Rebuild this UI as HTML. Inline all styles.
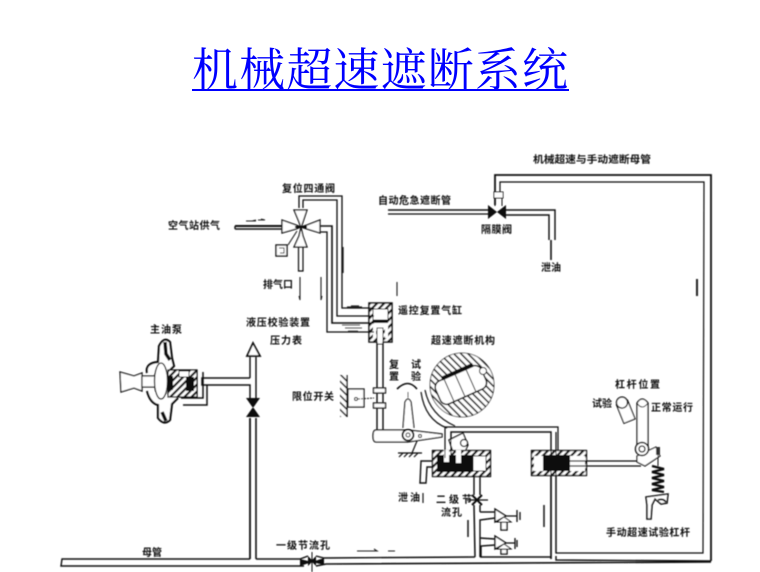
<!DOCTYPE html>
<html><head><meta charset="utf-8">
<style>
html,body{margin:0;padding:0;background:#fff;width:760px;height:572px;overflow:hidden}
svg{display:block}
.t{font-family:"Liberation Sans","Noto Sans CJK SC",sans-serif;font-size:10px;font-weight:700;fill:#111}
</style></head><body>
<svg width="760" height="572" viewBox="0 0 760 572" xmlns="http://www.w3.org/2000/svg">
<defs>
<pattern id="h" width="5" height="5" patternUnits="userSpaceOnUse" patternTransform="rotate(45)"><rect width="5" height="5" fill="#fff"/><rect width="2.2" height="5" fill="#111"/></pattern>
<pattern id="h2" width="5" height="5" patternUnits="userSpaceOnUse" patternTransform="rotate(-45)"><rect width="5" height="5" fill="#fff"/><rect width="1.600" height="5" fill="#222"/></pattern>
<filter id="b" x="-5%" y="-5%" width="110%" height="110%"><feGaussianBlur stdDeviation="0.45"/></filter>
</defs>

<text x="192" y="86" textLength="376" lengthAdjust="spacing" style="font-family:'Liberation Serif','Noto Serif CJK SC',serif;font-size:46px" fill="#0000ff">机械超速遮断系统</text>
<rect x="192" y="89" width="377" height="2" fill="#0000ff"/>

<g filter="url(#b)">
<g fill="none" stroke="#111" stroke-width="1.4">
<!-- upper bus -->
<polyline points="495,205 495,175 711,175 711,561" stroke-width="1.8"/>
<polyline points="500,193 500,182 704,182 703,553 556,553 556,432" stroke-width="1.2"/>
<!-- bottom bus -->
<polyline points="250,559 62,559 61,566 304,566"/>
<polyline points="256,559 300,559 308,556"/>
<polyline points="316,556 324,558 475,557"/>
<polyline points="480,557 551,557"/>
<polyline points="556,556 556,560 711,561"/>
<polyline points="316,566 326,564 711,562" stroke-width="1.6"/>
<!-- main vertical -->
<line x1="250" y1="418" x2="250" y2="559" stroke-width="1.8"/>
<line x1="256" y1="418" x2="256" y2="559" stroke-width="1.6"/>
<line x1="250" y1="357" x2="250" y2="378"/><line x1="256" y1="357" x2="256" y2="398"/>
<polyline points="207,378 250,378"/><polyline points="207,385 250,385 250,398"/>
<!-- air to valve -->
<path d="M235,226 H283" stroke-width="2"/><path d="M235,229 H283" stroke-width="1.400"/><path d="M235,226 V229"/>
<!-- reset valve pipes -->
<polyline points="299,208 299,196 342,196 342,308 368,308" stroke-width="1.3"/>
<polyline points="303,208 303,200 337,200 337,316 368,316" stroke-width="1.3"/>
<polyline points="320,226 332,226 332,323 368,323" stroke-width="1.6"/>
<polyline points="320,232 327,232 327,332 368,332" stroke-width="1.3"/>
<path d="M298.500,247 V271 H303 V247" stroke-width="1.2"/>
<!-- auto trip line -->
<polyline points="388,210 490,210"/><polyline points="388,214 490,214" stroke-width="1.2"/>
<polyline points="506,210 555,210 555,240"/><polyline points="506,215 549,215 549,240"/>
<line x1="551" y1="240" x2="551" y2="260" stroke-width="1.6"/>
<!-- mech pipes -->
<polyline points="445,455 445,427 558,427 558,450" stroke-width="1.2"/>
<polyline points="451,446 451,432 551,432 551,450" stroke-width="1.4"/>
<line x1="551" y1="476" x2="551" y2="559" stroke-width="1.7"/>
<line x1="556" y1="476" x2="556" y2="553" stroke-width="1.4"/>
<!-- below trip -->
<line x1="474" y1="476" x2="474" y2="495"/><line x1="480" y1="476" x2="480" y2="495"/>
<line x1="474" y1="505" x2="475" y2="557" stroke-width="1.5"/>
<line x1="480" y1="505" x2="480" y2="512"/><polyline points="480,512 495,512"/>
<polyline points="480,557 480,520 495,518"/>
<polyline points="480,538 495,539"/><polyline points="481,557 481,546 495,545"/>
<!-- drain curve -->
<polyline points="432,461 421,461 420,483 426,483 427,467 432,467"/>
</g>
<!-- orifices -->
<path d="M308,556 L312,560 L316,556 L316,566 L312,562 L308,566Z" fill="#111"/>
<line x1="312" y1="552" x2="312" y2="572" stroke="#111"/>
<path d="M300,559 L312,562 L300,566Z M324,558 L312,562 L324,565Z" fill="#111"/>
<path d="M472,495 L482,505 M482,495 L472,505" stroke="#111" stroke-width="2"/>
<line x1="467" y1="500" x2="488" y2="500" stroke="#111" stroke-width="1.3"/>
<!-- diaphragm valve -->
<path d="M488,205 L497,212 L488,219Z M506,205 L497,212 L506,219Z" fill="#111"/>
<path d="M494,192 H503 V198 H494Z" fill="#fff" stroke="#111"/>
<path d="M495,198 V206 M502,198 V206" stroke="#111"/>
<!-- gauge triangle + valve -->
<path d="M253,343 L260,356 L247,356Z" fill="#fff" stroke="#111" stroke-width="1.8"/>
<path d="M246,398 H260 L253,408Z M246,417 H260 L253,407Z" fill="#111"/>
<!-- four-way valve -->
<g fill="#fff" stroke="#111" stroke-width="1.3">
<path d="M294,210 H307 L303,222 L301,228 L299,222Z"/><path d="M294,247 H307 L303,236 L301,227 L299,236Z"/>
<path d="M282,220 V233 L296,229 L301,227 L296,225Z"/><path d="M320,220 V233 L307,229 L301,227 L307,225Z"/>
</g>
<path d="M295,226 h12 v2 h-12Z" fill="#111"/>
<path d="M297,231 L288,245" stroke="#111"/>
<rect x="276" y="245" width="11" height="11" fill="#fff" stroke="#111" stroke-width="1.4"/>
<path d="M279,248 h5 v5 h-4" fill="none" stroke="#111"/>
<!-- cylinder -->
<rect x="369" y="303" width="23" height="39" fill="url(#h)" stroke="#111" stroke-width="1.5"/>
<rect x="373" y="309" width="15" height="11" fill="#fff" stroke="#111"/>
<rect x="373" y="320" width="15" height="3" fill="#111"/>
<rect x="373" y="323" width="15" height="5" fill="#fff"/>
<rect x="377" y="328" width="6" height="16" fill="#fff" stroke="#111"/>
<rect x="373" y="326" width="3" height="12" fill="#fff"/><rect x="385" y="326" width="3" height="12" fill="#fff"/>
<path d="M368,308 h6 M368,316 h6 M368,323 h6 M368,332 h6" stroke="#111" stroke-width="1.3"/>
<!-- rod -->
<path d="M377,342 V430 M383,342 V430" stroke="#111" stroke-width="1.4"/>
<rect x="373.500" y="388" width="12" height="5" fill="#fff" stroke="#111" stroke-width="1.3"/>
<rect x="373.500" y="403" width="12" height="5" fill="#fff" stroke="#111" stroke-width="1.3"/>
<!-- limit switch -->
<rect x="340" y="375" width="7" height="42" fill="url(#h2)"/>
<line x1="347" y1="375" x2="347" y2="417" stroke="#111" stroke-width="1.3"/>
<rect x="348" y="389" width="16" height="18" fill="#fff" stroke="#111" stroke-width="1.3"/>
<circle cx="356" cy="399" r="1.500" fill="none" stroke="#111"/>
<path d="M358,399 L374,398" stroke="#111" stroke-dasharray="2 1"/>
<!-- lever -->
<path d="M376,430 H408 L442,434 L442,437 L408,442 H376 Q373,442 373,436 Q373,430 376,430Z" fill="#fff" stroke="#111" stroke-width="1.3"/>
<path d="M403,428 L405,402 Q408,396 411,402 L414,428" fill="#fff" stroke="#111" stroke-width="1.2"/>
<circle cx="408" cy="435" r="5.500" fill="#fff" stroke="#111" stroke-width="1.800"/>
<circle cx="408" cy="435" r="2" fill="none" stroke="#111"/>
<circle cx="420" cy="436" r="1.500" fill="none" stroke="#111"/>
<path d="M398,453 H422 M399,457 L403,453 M404,457 L408,453 M409,457 L413,453 M414,457 L418,453 M412,453 L417,441" stroke="#111" stroke-width="1.2" fill="none"/>
<!-- rotation arrow -->
<path d="M397,389 Q408,378 417,389" fill="none" stroke="#111" stroke-width="1.6"/>
<path d="M408,392 V398" stroke="#777"/>
<!-- overspeed mech -->
<circle cx="462" cy="385" r="32" fill="url(#h2)" stroke="#222" stroke-width="0.8"/>
<g transform="rotate(-24 462 385)">
<rect x="436" y="372" width="50" height="25" rx="7" fill="#fff" stroke="#111" stroke-width="1.5"/>
<path d="M448,372 v25 M460,372 v25 M472,372 v25" stroke="#111"/>
<rect x="446" y="369" width="34" height="4" fill="#111"/>
</g>
<circle cx="483" cy="371" r="3.500" fill="#fff" stroke="#111"/>
<path d="M425,390 Q430,415 455,426 M421,392 Q425,420 447,428" fill="none" stroke="#111" stroke-width="1.2"/>
<!-- latch -->
<path d="M449,440 L463,433 L468,445 L462,458 L455,458 Z" fill="#fff" stroke="#111" stroke-width="1.300"/>
<circle cx="464" cy="443" r="3.500" fill="#fff" stroke="#111" stroke-width="1.300"/>
<!-- trip block -->
<rect x="432.500" y="450.500" width="58" height="26" fill="url(#h)" stroke="#111" stroke-width="1.3"/>
<rect x="437" y="455" width="36" height="17" fill="#111"/>
<rect x="473" y="456" width="13" height="15" fill="#fff" stroke="#111"/>
<rect x="444" y="450" width="5" height="12" fill="#fff"/><rect x="456" y="450" width="5" height="13" fill="#fff"/>
<path d="M445,440 V458 M451,436 V458" stroke="#111"/>
<!-- check valves -->
<g fill="#fff" stroke="#111" stroke-width="1.4">
<path d="M495,509 V522 L506,516Z"/><path d="M495,536 V549 L506,543Z"/>
<rect x="501" y="522" width="6" height="8"/><rect x="501" y="549" width="6" height="5"/>
</g>
<path d="M497,522 L504,517 L511,522 Z M497,549 L504,544 L511,549Z" fill="#fff" stroke="#111"/>
<path d="M506,516 H517 M517,510 V522 M520,512 V520 M506,543 H515 M515,538 V549 M517,540 V547" stroke="#111" stroke-width="1.3"/>
<!-- right cylinder -->
<rect x="531.500" y="450.500" width="55" height="25" fill="url(#h)" stroke="#111" stroke-width="1.3"/>
<rect x="534" y="456" width="9" height="15" fill="#fff"/>
<rect x="543" y="455" width="27" height="16" fill="#111"/>
<rect x="570" y="456" width="15" height="15" fill="#fff"/>
<path d="M551,432 V476 M556,432 V476" stroke="#111" stroke-width="1"/>
<path d="M570,461 H637 M570,466 H641" stroke="#111" stroke-width="1.3"/>
<!-- right lever -->
<path d="M637,448 V403 Q642,395 648,403 V448" fill="#fff" stroke="#111" stroke-width="1.300"/>
<path d="M637,403 Q642,411 648,403" fill="none" stroke="#111"/>
<g transform="rotate(-22 625 410)">
<rect x="619" y="402" width="12" height="20" fill="#fff" stroke="#111" stroke-width="1.2"/>
<circle cx="625" cy="402" r="5.500" fill="#fff" stroke="#111" stroke-width="1.300"/>
</g>
<path d="M637,456 L656,447 L660,456 L645,466 L637,462Z" fill="#fff" stroke="#111" stroke-width="1.200"/>
<circle cx="642" cy="449" r="6.500" fill="#fff" stroke="#111" stroke-width="1.500"/>
<circle cx="642" cy="449" r="3" fill="none" stroke="#111" stroke-width="1.300"/>
<rect x="656" y="447" width="4" height="8" fill="#333"/>
<path d="M658,455 V466" stroke="#111"/>
<path d="M652,466 L664,469 L652,472 L664,475 L652,478 L664,481 L652,484 L664,487 L652,490 L664,492" fill="none" stroke="#111" stroke-width="2.200"/>
<path d="M646,497 L668,494 L667,503 L661,504 L655,499 L652,505 L651,519 L647,519 L647,505Z" fill="#fff" stroke="#111" stroke-width="1.600"/>
<path d="M658,500 Q663,498 666,502" fill="none" stroke="#111" stroke-width="2"/>
<!-- pump -->
<path d="M120,372 L134,376 L142,373 V391 L134,388 L121,392Z" fill="#fff" stroke="#111" stroke-width="1.300"/>
<rect x="142" y="376" width="14" height="11" fill="#fff" stroke="#111" stroke-width="1.2"/>
<path d="M147,373 Q145,363 158,362 L159,346 Q164,336 170,342 L172,358 L174,366 L168,372" fill="#fff" stroke="#111" stroke-width="2.200"/>
<path d="M147,391 Q150,403 158,405 L158,418 Q164,426 170,420 L172,404 L178,398" fill="#fff" stroke="#111" stroke-width="2.200"/>
<path d="M165,342 L166,354 L170,360 M162,412 L166,421" stroke="#111" stroke-width="3.500" fill="none"/>
<rect x="168" y="370" width="29" height="27" fill="url(#h)" stroke="#111" stroke-width="1.300"/>
<rect x="186" y="377" width="8" height="14" fill="#111"/>
<rect x="179" y="371" width="10" height="6" fill="#fff" stroke="#111"/>
<ellipse cx="161" cy="381" rx="6.500" ry="18" fill="#fff" stroke="#111" stroke-width="1.300"/>
<rect x="168" y="376" width="5" height="14" fill="#111"/>
<path d="M181,398 H203 V372 M183,405 H207 V385 M207,378 H202 V385 H207" fill="none" stroke="#111" stroke-width="1.500"/>
<!-- flow arrows -->
<g stroke="#222" stroke-width="1.100" fill="none">
<path d="M246,221 H256 M252,221 l4,-1 M258,220 H265 M261,219 l4,1"/>
<path d="M343,247 V273" stroke-width="1.400"/>
<path d="M300,277 V300 l-1,-4 M321,277 V300 l1,-4"/>
<path d="M347,307 H362 M351,306 h8" stroke-width="1.300"/>
<path d="M342,325 H360 M345,328 H362 M348,331 H358" stroke-width="0.800"/>
<path d="M397,282 V296"/>
<path d="M697,279 V296" stroke-width="2"/>
<path d="M423,493 V503" stroke-width="1.300"/>
<path d="M468,520 V537" stroke-width="1.600"/>
<path d="M544,505 V527" stroke-width="1.600"/>
<path d="M357,551 H377 l-3,-2 M388,551 H395"/>
</g>
<!-- labels -->
<text class="t" x="533" y="163" textLength="118" lengthAdjust="spacingAndGlyphs">机械超速与手动遮断母管</text>
<text class="t" x="282" y="192" textLength="53">复位四通阀</text>
<text class="t" x="378" y="204" textLength="73">自动危急遮断管</text>
<text class="t" x="481" y="233" textLength="31">隔膜阀</text>
<text class="t" x="541" y="271" textLength="20">泄油</text>
<text class="t" x="168" y="229" textLength="52">空气站供气</text>
<text class="t" x="263" y="288" textLength="30">排气口</text>
<text class="t" x="398" y="314" textLength="64">遥控复置气缸</text>
<text class="t" x="431" y="344" textLength="64">超速遮断机构</text>
<text class="t" x="150" y="333" textLength="32">主油泵</text>
<text class="t" x="246" y="326" textLength="64">液压校验装置</text>
<text class="t" x="270" y="344" textLength="32">压力表</text>
<text class="t" x="292" y="400" textLength="42">限位开关</text>
<text class="t" x="389" y="368">复</text><text class="t" x="389" y="380">置</text>
<text class="t" x="411" y="368">试</text><text class="t" x="411" y="380">验</text>
<text class="t" x="615" y="388" textLength="45">杠杆位置</text>
<text class="t" x="592" y="407" textLength="20">试验</text>
<text class="t" x="651" y="411" textLength="42">正常运行</text>
<text class="t" x="606" y="536" textLength="84">手动超速试验杠杆</text>
<text class="t" x="398" y="501" textLength="22">泄油</text>
<text class="t" x="436" y="503" textLength="36">二级节</text>
<text class="t" x="441" y="516" textLength="21">流孔</text>
<text class="t" x="276" y="549" textLength="54">一级节流孔</text>
<text class="t" x="142" y="556" textLength="20">母管</text>
</g>
</svg>
</body></html>
